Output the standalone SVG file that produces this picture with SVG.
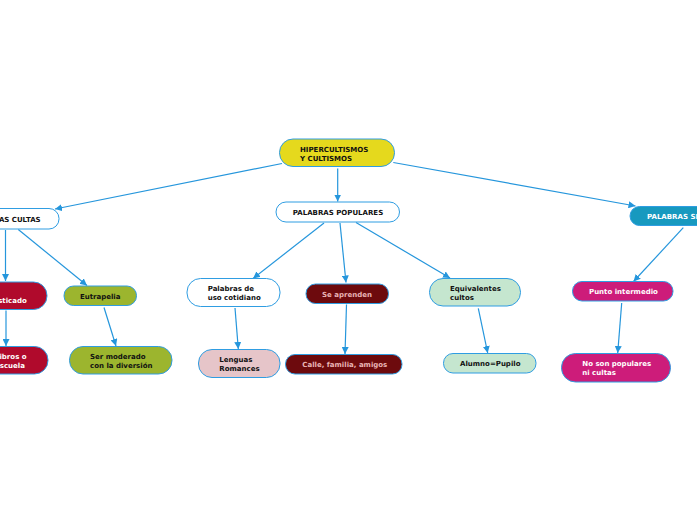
<svg xmlns="http://www.w3.org/2000/svg" width="697" height="520" viewBox="0 0 697 520">
<defs>
<marker id="a" markerUnits="userSpaceOnUse" markerWidth="8" markerHeight="7" refX="7" refY="3.5" orient="auto">
<path d="M0,0 L7,3.5 L0,7 Z" fill="#2596dc"/>
</marker>
<style>
.n rect{stroke:#2f9de2;stroke-width:1}
text{font-family:"DejaVu Sans",Verdana,sans-serif;font-weight:bold;font-size:7px;fill:#111}
.w text{fill:#fff}
.p text{fill:#e9b3b5}
.c path{stroke:#2596dc;stroke-width:1.2;fill:none;marker-end:url(#a)}
</style>
</defs>
<rect width="697" height="520" fill="#fff"/>
<g class="c">
<path d="M282,163.5 L55,209"/>
<path d="M337.7,168.5 L337.7,201.5"/>
<path d="M393.3,162.5 L635.5,206"/>
<path d="M5.5,230 L5.5,281"/>
<path d="M18.3,229.5 L87,285.5"/>
<path d="M6,310.5 L6,346"/>
<path d="M104,307.5 L116,346"/>
<path d="M324,223 L253,278.5"/>
<path d="M340,223 L346,282.5"/>
<path d="M356,222.5 L450,278"/>
<path d="M235,308 L238.3,349"/>
<path d="M346.5,304.5 L345,354"/>
<path d="M478.3,308.3 L487.7,353"/>
<path d="M683.3,227.7 L633.5,281.5"/>
<path d="M621.7,303 L617.7,353"/>
</g>
<g id="root" class="n"><rect x="279.5" y="139" width="115" height="27.5" rx="13.5" fill="#e5d91d"/><text x="300" y="151.5">HIPERCULTISMOS</text><text x="300" y="160.5">Y CULTISMOS</text></g>
<g id="cultas" class="n"><rect x="-50" y="208.5" width="109" height="20.5" rx="10" fill="#fff"/><text x="4.5" y="221.5" text-anchor="middle">PALABRAS CULTAS</text></g>
<g id="populares" class="n"><rect x="276" y="202" width="123.5" height="20" rx="10" fill="#fff"/><text x="338" y="214.8" text-anchor="middle">PALABRAS POPULARES</text></g>
<g id="semicultas" class="n w"><rect x="630" y="206.5" width="128" height="19" rx="9.5" fill="#1799bf"/><text x="647" y="219">PALABRAS SEMICULTAS</text></g>
<g id="sofisticado" class="n w"><rect x="-37" y="282" width="84" height="27.5" rx="13.5" fill="#b00a2c"/><text x="-16" y="303">sofisticado</text></g>
<g id="libros" class="n w"><rect x="-26" y="346.5" width="74" height="27.5" rx="13.5" fill="#b00a2c"/><text x="-5" y="358.5">Libros o</text><text x="-5" y="367.5">escuela</text></g>
<g id="eutrapelia" class="n"><rect x="64" y="286" width="72.5" height="19.5" rx="9.5" fill="#9cb52e"/><text x="100.2" y="298.5" text-anchor="middle">Eutrapelia</text></g>
<g id="moderado" class="n"><rect x="69.5" y="346.5" width="102.5" height="27.5" rx="13.5" fill="#9cb52e"/><text x="90" y="359">Ser moderado</text><text x="90" y="368">con la diversión</text></g>
<g id="cotidiano" class="n"><rect x="187" y="278.5" width="93" height="28" rx="13.5" fill="#fff"/><text x="207.7" y="291">Palabras de</text><text x="207.7" y="300">uso cotidiano</text></g>
<g id="aprenden" class="n p"><rect x="306" y="284" width="82.5" height="19.5" rx="9.5" fill="#6d0a0d"/><text x="322" y="296.5">Se aprenden</text></g>
<g id="equivalentes" class="n"><rect x="429.5" y="278.5" width="91" height="27.5" rx="13.5" fill="#c5e6cf"/><text x="450" y="291">Equivalentes</text><text x="450" y="300">cultos</text></g>
<g id="lenguas" class="n"><rect x="198.5" y="349.5" width="81.5" height="28" rx="13.5" fill="#e6c5c9"/><text x="219.3" y="362">Lenguas</text><text x="219.3" y="371">Romances</text></g>
<g id="calle" class="n p"><rect x="285.5" y="354.5" width="116.5" height="19.5" rx="9.5" fill="#6d0a0d"/><text x="302.3" y="367">Calle, familia, amigos</text></g>
<g id="alumno" class="n"><rect x="443.5" y="353.5" width="92.5" height="19.5" rx="9.5" fill="#c5e6cf"/><text x="460" y="366">Alumno=Pupilo</text></g>
<g id="punto" class="n w"><rect x="572.5" y="281.5" width="100.5" height="19.5" rx="9.5" fill="#cd1c7a"/><text x="589" y="294">Punto intermedio</text></g>
<g id="noson" class="n w"><rect x="561.5" y="353.5" width="109" height="28.5" rx="14" fill="#cd1c7a"/><text x="582.3" y="366">No son populares</text><text x="582.3" y="375">ni cultas</text></g>
</svg>
